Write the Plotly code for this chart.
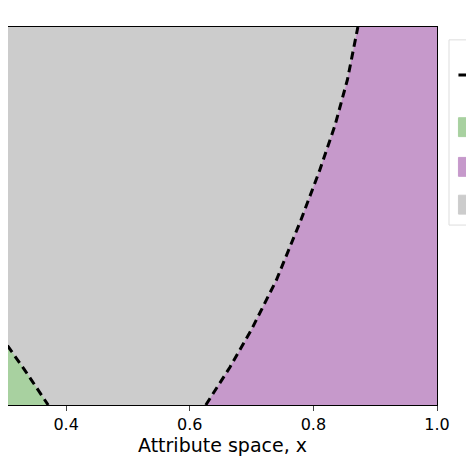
import plotly.graph_objects as go

left_x = [0.293, 0.332, 0.371]
left_y = [0.185, 0.095, 0.0]
right_x = [0.626, 0.665, 0.700, 0.740, 0.780, 0.810, 0.835, 0.855, 0.872]
right_y = [0.0, 0.10, 0.20, 0.33, 0.49, 0.62, 0.74, 0.86, 1.0]
x_ticks = [0.4, 0.6, 0.8, 1.0]

green = "#a8d1a0"; purple = "#c699cb"; gray = "#cccccc"
fig = go.Figure()
fig.add_trace(go.Scatter(x=left_x + [left_x[0]], y=left_y + [0.0], fill="toself", fillcolor=green,
                         line=dict(width=0), mode="lines", showlegend=False, hoverinfo="skip"))
fig.add_trace(go.Scatter(x=right_x + [1.0, 1.0], y=right_y + [1.0, 0.0], fill="toself", fillcolor=purple,
                         line=dict(width=0), mode="lines", showlegend=False, hoverinfo="skip"))
for xs, ys in [(left_x, left_y), (right_x, right_y)]:
    fig.add_trace(go.Scatter(x=xs, y=ys, mode="lines", line=dict(color="black", width=3, dash="8px,5px"),
                             showlegend=False, hoverinfo="skip"))

shapes = [dict(type="rect", xref="paper", yref="paper", x0=1.028, x1=1.2, y0=0.476, y1=0.966,
               line=dict(color="#dddddd", width=1), fillcolor="white", layer="above")]
shapes.append(dict(type="line", xref="paper", yref="paper", x0=1.05, x1=1.2, y0=0.873, y1=0.873,
                   line=dict(color="black", width=3)))
for yc, col in [(0.735, green), (0.63, purple), (0.53, gray)]:
    shapes.append(dict(type="rect", xref="paper", yref="paper", x0=1.05, x1=1.11, y0=yc - 0.025, y1=yc + 0.025,
                       fillcolor=col, line=dict(color=col, width=1)))
fig.update_layout(
    width=474, height=474, margin=dict(l=0, r=45, t=19, b=77),
    plot_bgcolor=gray, paper_bgcolor="white", shapes=shapes,
    font=dict(family="DejaVu Sans", size=16, color="black"),
    xaxis=dict(range=[0.306, 1.0], tickvals=x_ticks, ticktext=["0.4", "0.6", "0.8", "1.0"],
               ticks="outside", ticklen=5, showgrid=False, zeroline=False, showline=True,
               linecolor="black", mirror=True, title=dict(text="Attribute space, x", standoff=4)),
    yaxis=dict(range=[0, 1], showticklabels=False, showgrid=False, zeroline=False,
               showline=True, linecolor="black", mirror=True),
)
fig.write_html("out.html")
